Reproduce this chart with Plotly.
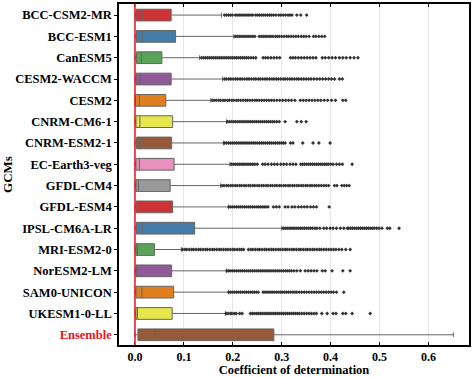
import plotly.graph_objects as go

models = ["BCC-CSM2-MR", "BCC-ESM1", "CanESM5", "CESM2-WACCM", "CESM2", "CNRM-CM6-1",
          "CNRM-ESM2-1", "EC-Earth3-veg", "GFDL-CM4", "GFDL-ESM4", "IPSL-CM6A-LR",
          "MRI-ESM2-0", "NorESM2-LM", "SAM0-UNICON", "UKESM1-0-LL", "Ensemble"]
q1 = [0.002, 0.003, 0.003, 0.002, 0.001, 0.002, 0.003, 0.002, 0.002, 0.002, 0.003,
      0.002, 0.002, 0.002, 0.002, 0.006]
median = [0.015, 0.015, 0.013, 0.010, 0.009, 0.010, 0.011, 0.009, 0.007, 0.005, 0.015,
          0.005, 0.003, 0.014, 0.005, 0.041]
q3 = [0.074, 0.083, 0.055, 0.074, 0.063, 0.077, 0.075, 0.080, 0.072, 0.077, 0.122,
      0.040, 0.075, 0.079, 0.076, 0.284]
lower = [0.0] * 16
upper = [0.177, 0.202, 0.132, 0.179, 0.155, 0.187, 0.181, 0.194, 0.175, 0.191, 0.300,
         0.095, 0.187, 0.191, 0.185, 0.651]

out_bcc_csm2_mr = [0.183,0.187,0.191,0.195,0.199,0.205,0.209,0.213,0.217,0.221,0.225,0.229,0.233,0.237,0.241,
                   0.247,0.251,0.255,0.259,0.263,0.267,0.271,0.275,0.279,0.283,0.288,0.294,0.298,0.303,0.308,
                   0.313,0.317,0.321,0.331,0.339,0.351]
out_bcc_esm1 = [0.205,0.209,0.213,0.217,0.221,0.225,0.229,0.233,0.237,0.241,0.245,0.254,0.258,0.262,0.266,
                0.270,0.274,0.278,0.282,0.287,0.291,0.295,0.300,0.305,0.310,0.314,0.319,0.324,0.329,0.334,
                0.340,0.345,0.350,0.356,0.365,0.370,0.376,0.382,0.388]
out_canesm5 = [0.136,0.140,0.144,0.148,0.152,0.156,0.160,0.164,0.168,0.172,0.176,0.180,0.184,0.188,0.192,
               0.196,0.200,0.204,0.208,0.212,0.216,0.220,0.224,0.228,0.232,0.237,0.242,0.247,0.262,0.267,
               0.272,0.278,0.284,0.290,0.296,0.318,0.323,0.328,0.334,0.340,0.346,0.352,0.358,0.364,0.370,
               0.383,0.389,0.396,0.403,0.410,0.418,0.425,0.432,0.440,0.448,0.456]
out_cesm2_waccm = [0.183,0.187,0.192,0.196,0.201,0.206,0.210,0.215,0.219,0.224,0.229,0.233,0.238,0.243,0.247,
                   0.252,0.256,0.261,0.266,0.270,0.275,0.280,0.284,0.289,0.293,0.298,0.303,0.307,0.312,0.317,
                   0.321,0.326,0.331,0.335,0.340,0.345,0.350,0.355,0.360,0.366,0.372,0.378,0.384,0.390,0.396,
                   0.402,0.408,0.418,0.424]
out_cesm2 = [0.158,0.162,0.166,0.171,0.175,0.180,0.184,0.189,0.193,0.198,0.202,0.207,0.211,0.216,0.221,
             0.226,0.230,0.235,0.240,0.245,0.249,0.254,0.259,0.264,0.269,0.274,0.279,0.284,0.290,0.296,
             0.302,0.308,0.314,0.320,0.327,0.338,0.344,0.350,0.356,0.362,0.368,0.374,0.380,0.387,0.394,
             0.402,0.410,0.425,0.431]
out_cnrm_cm6_1 = [0.189,0.193,0.197,0.201,0.205,0.209,0.213,0.217,0.221,0.225,0.229,0.233,0.237,0.241,0.245,
                  0.249,0.253,0.257,0.261,0.265,0.269,0.273,0.277,0.281,0.285,0.290,0.295,0.307,0.331,0.340,
                  0.350]
out_cnrm_esm2_1 = [0.183,0.187,0.191,0.195,0.199,0.203,0.207,0.211,0.215,0.219,0.223,0.227,0.231,0.235,0.239,
                   0.243,0.247,0.251,0.255,0.259,0.263,0.267,0.271,0.275,0.279,0.283,0.287,0.291,0.295,0.299,
                   0.303,0.307,0.318,0.323,0.343,0.364,0.376,0.399]
out_ec_earth3_veg = [0.197,0.201,0.205,0.209,0.213,0.217,0.221,0.225,0.229,0.233,0.237,0.241,0.245,0.250,0.261,
                     0.266,0.272,0.279,0.285,0.291,0.298,0.304,0.310,0.317,0.323,0.329,0.339,0.343,0.347,0.351,
                     0.355,0.359,0.363,0.367,0.371,0.375,0.379,0.383,0.387,0.391,0.395,0.400,0.405,0.412,0.418,
                     0.424,0.444]
out_gfdl_cm4 = [0.178,0.182,0.187,0.191,0.196,0.200,0.205,0.209,0.214,0.218,0.223,0.227,0.232,0.236,0.241,
                0.245,0.250,0.254,0.259,0.263,0.268,0.272,0.277,0.281,0.286,0.290,0.295,0.299,0.304,0.308,
                0.313,0.317,0.322,0.326,0.331,0.335,0.340,0.344,0.349,0.353,0.358,0.362,0.367,0.371,0.376,
                0.381,0.386,0.391,0.396,0.408,0.413,0.423,0.428,0.433,0.438]
out_gfdl_esm4 = [0.192,0.196,0.200,0.204,0.208,0.212,0.216,0.220,0.224,0.228,0.232,0.236,0.240,0.244,0.248,
                 0.252,0.256,0.260,0.264,0.268,0.272,0.283,0.289,0.295,0.307,0.313,0.321,0.327,0.334,0.340,
                 0.346,0.352,0.359,0.365,0.371,0.397]
out_ipsl_cm6a_lr = [0.303,0.307,0.311,0.315,0.319,0.323,0.327,0.331,0.335,0.339,0.343,0.347,0.351,0.355,0.359,
                    0.363,0.368,0.372,0.378,0.386,0.392,0.399,0.405,0.412,0.420,0.427,0.434,0.437,0.441,0.445,
                    0.449,0.453,0.457,0.461,0.465,0.469,0.473,0.477,0.481,0.485,0.489,0.494,0.499,0.505,0.516,
                    0.521,0.540]
out_mri_esm2_0 = [0.097,0.102,0.106,0.111,0.116,0.120,0.125,0.130,0.134,0.139,0.144,0.148,0.153,0.158,0.162,
                  0.167,0.172,0.176,0.181,0.186,0.190,0.195,0.200,0.204,0.209,0.214,0.218,0.222,0.232,0.237,
                  0.241,0.246,0.251,0.255,0.260,0.265,0.269,0.274,0.279,0.283,0.288,0.293,0.297,0.302,0.307,
                  0.311,0.316,0.321,0.325,0.330,0.335,0.339,0.344,0.349,0.353,0.358,0.363,0.367,0.372,0.377,
                  0.381,0.386,0.391,0.396,0.401,0.406,0.411,0.417,0.423,0.431,0.440]
out_noresm2_lm = [0.188,0.192,0.196,0.200,0.204,0.208,0.212,0.216,0.220,0.224,0.228,0.232,0.236,0.240,0.244,
                  0.248,0.252,0.256,0.260,0.264,0.268,0.272,0.276,0.280,0.284,0.288,0.292,0.296,0.300,0.304,
                  0.308,0.312,0.316,0.320,0.325,0.331,0.338,0.348,0.354,0.360,0.366,0.372,0.383,0.389,0.403,
                  0.425,0.440]
out_sam0_unicon = [0.192,0.196,0.200,0.204,0.208,0.212,0.216,0.220,0.224,0.228,0.232,0.236,0.240,0.244,0.248,
                   0.252,0.262,0.266,0.270,0.274,0.278,0.282,0.286,0.290,0.294,0.298,0.302,0.306,0.310,0.314,
                   0.318,0.323,0.327,0.331,0.336,0.341,0.346,0.351,0.356,0.361,0.366,0.371,0.376,0.381,0.386,
                   0.391,0.396,0.401,0.406,0.412,0.427]
out_ukesm1_0_ll = [0.186,0.190,0.195,0.198,0.203,0.207,0.214,0.219,0.236,0.240,0.244,0.248,0.252,0.256,0.260,
                   0.264,0.268,0.272,0.276,0.280,0.284,0.288,0.292,0.296,0.300,0.304,0.308,0.312,0.316,0.320,
                   0.324,0.328,0.332,0.336,0.341,0.346,0.351,0.356,0.361,0.366,0.371,0.382,0.393,0.405,0.411,
                   0.425,0.431,0.444,0.481]
out_ensemble = []

outliers = [out_bcc_csm2_mr, out_bcc_esm1, out_canesm5, out_cesm2_waccm, out_cesm2, out_cnrm_cm6_1,
            out_cnrm_esm2_1, out_ec_earth3_veg, out_gfdl_cm4, out_gfdl_esm4, out_ipsl_cm6a_lr,
            out_mri_esm2_0, out_noresm2_lm, out_sam0_unicon, out_ukesm1_0_ll, out_ensemble]

colors = ["#CB3335", "#477CA8", "#59A257", "#905998", "#DF7F20", "#E6E64D", "#965A38", "#E890BE",
          "#999999", "#CB3335", "#477CA8", "#59A257", "#905998", "#DF7F20", "#E6E64D", "#965A38"]

x_ticks = [0.0, 0.1, 0.2, 0.3, 0.4, 0.5, 0.6]
x_ticktext = ["0.0", "0.1", "0.2", "0.3", "0.4", "0.5", "0.6"]

FONT = "Liberation Serif"
fig = go.Figure()
for i, m in enumerate(models):
    fig.add_trace(go.Box(
        y=[m], q1=[q1[i]], median=[median[i]], q3=[q3[i]],
        lowerfence=[lower[i]], upperfence=[upper[i]],
        orientation="h", fillcolor=colors[i],
        line=dict(color="#666666", width=1), width=0.55, whiskerwidth=0.4,
        boxpoints=False, showlegend=False, hoverinfo="skip"))
    if outliers[i]:
        fig.add_trace(go.Scatter(
            x=outliers[i], y=[m] * len(outliers[i]), mode="markers",
            marker=dict(symbol="diamond", size=3, color="#333333", line=dict(width=0)),
            showlegend=False, hoverinfo="skip"))

ticktext = [m if m != "Ensemble" else '<span style="color:#e8141c">Ensemble</span>' for m in models]

fig.add_shape(type="line", xref="x", yref="paper", x0=0, x1=0, y0=0, y1=1,
              line=dict(color="#e8141c", width=1.5), layer="above")

fig.update_layout(
    template=None,
    width=474, height=377,
    margin=dict(l=119, r=5, t=4, b=32, autoexpand=False),
    paper_bgcolor="white", plot_bgcolor="white",
    font=dict(family=FONT, color="black"),
    xaxis=dict(
        automargin=False,
        range=[-0.0327, 0.683], tickvals=x_ticks, ticktext=x_ticktext,
        showgrid=True, gridcolor="#e6e6e6", gridwidth=1, zeroline=False,
        showline=True, linecolor="black", linewidth=1.5, mirror="ticks",
        ticks="inside", ticklen=3, tickcolor="black",
        tickfont=dict(family=FONT, size=12, weight="bold"),
        title=dict(text="Coefficient of determination", standoff=2,
                   font=dict(family=FONT, size=12.5, weight="bold")),
    ),
    yaxis=dict(
        automargin=False,
        type="category", categoryorder="array", categoryarray=models,
        range=[15.48, -0.52], tickvals=models, ticktext=ticktext,
        showgrid=False, zeroline=False,
        showline=True, linecolor="black", linewidth=1.5, mirror=True,
        ticks="outside", ticklen=3, tickcolor="black",
        tickfont=dict(family=FONT, size=12.5, weight="bold"),
        title=dict(text="GCMs", standoff=3, font=dict(family=FONT, size=13, weight="bold")),
    ),
)

fig.write_html("out.html", config={"displayModeBar": False},
               post_script="document.body.style.margin='0';document.body.style.padding='0';")
